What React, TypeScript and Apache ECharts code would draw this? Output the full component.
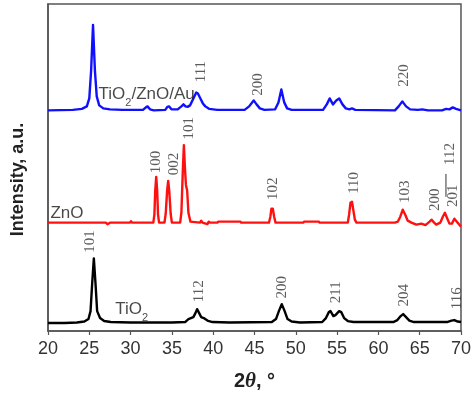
import React, { useEffect, useRef } from "react";
import * as echarts from "echarts";

// 2θ (deg) vs intensity (a.u., above each pattern's own baseline)
const tio2Pattern: number[][] = [
  [20, 0], [22, 0], [23.5, 0.5], [24.4, 1.5], [24.9, 4], [25.15, 12], [25.35, 40], [25.55, 65], [25.75, 40], [25.95, 12],
  [26.3, 5], [26.8, 2], [27.6, 1], [30, 0.5], [35, 0.5], [36.6, 1], [37.0, 4], [37.3, 5], [37.6, 6], [37.85, 10],
  [38.05, 14], [38.3, 10], [38.55, 6], [38.85, 5], [39.3, 2.5], [39.9, 1], [42, 0.5], [47.1, 1], [47.6, 4], [47.95, 12],
  [48.3, 19], [48.65, 12], [49.0, 4], [49.5, 1.5], [50.5, 0.5], [53.2, 1], [53.65, 5], [54.0, 11], [54.2, 12], [54.55, 7],
  [54.8, 8], [55.25, 12], [55.5, 11], [55.85, 5], [56.3, 2], [57, 1], [61.8, 1], [62.3, 3], [62.7, 7], [63.0, 9],
  [63.35, 6], [63.75, 2.5], [64.3, 1], [68.3, 1], [68.85, 2.5], [69.2, 3], [69.6, 1.5], [70, 1],
];

const znoPattern: number[][] = [
  [20, 0], [27.0, 0], [27.2, -1.5], [27.5, 0], [29.9, 0], [30.05, 1.5], [30.2, 0], [32.75, 0], [32.88, 8], [32.98, 32],
  [33.1, 46], [33.22, 32], [33.32, 8], [33.45, 0], [34.1, 0], [34.25, 9], [34.42, 32], [34.55, 42], [34.68, 32], [34.85, 9],
  [35.0, 0], [36.0, 0], [36.15, 10], [36.32, 52], [36.45, 78], [36.58, 55], [36.7, 38], [36.85, 32], [37.0, 10], [37.25, 1],
  [38.4, 0], [38.55, 2], [38.7, 0], [39.3, -1.5], [39.45, 1], [39.6, 0], [40.5, 0], [40.6, 1], [43.3, 1], [43.4, 0],
  [46.75, 0], [46.92, 6], [47.05, 14], [47.22, 14], [47.38, 6], [47.55, 0], [50.9, 0], [51, 1], [52.8, 1], [52.9, 0],
  [56.3, 0], [56.45, 8], [56.62, 20], [56.8, 21], [56.98, 12], [57.15, 3], [57.35, 0], [62.0, 0], [62.35, 1], [62.65, 6],
  [62.95, 13], [63.25, 8], [63.55, 2], [64.0, 0], [64.6, -2], [65.2, -1], [65.7, -2.5], [66.2, 1], [66.45, 3], [66.75, 0],
  [67.0, -2], [67.5, 0], [67.8, 6], [68.05, 10], [68.35, 4], [68.6, -1], [68.9, -1], [69.2, 4], [69.5, 1], [69.8, -2],
  [70, -4],
];

const compositePattern: number[][] = [
  [20, 0], [23, 0.5], [24.1, 1.5], [24.7, 4], [25.0, 12], [25.22, 40], [25.45, 86], [25.68, 40], [25.9, 14], [26.2, 5],
  [26.7, 2], [27.5, 1], [29, 0.5], [31.5, 0.5], [31.85, 3], [32.05, 4], [32.35, 1], [32.8, 0], [34.2, 0.5], [34.45, 3.5],
  [34.65, 4], [34.95, 1], [35.7, 1], [36.15, 4], [36.4, 6], [36.65, 4], [36.9, 3.5], [37.2, 5], [37.6, 12], [37.95, 18],
  [38.15, 17], [38.45, 12], [38.75, 7], [39.05, 4], [39.5, 1.5], [40.5, 0.5], [43.8, 0.5], [44.35, 4], [44.9, 10], [45.25, 6],
  [45.65, 2], [46.2, 0.5], [47.5, 1], [47.9, 8], [48.25, 21], [48.6, 8], [48.95, 2], [49.5, 0.5], [53.3, 0.5], [53.75, 6],
  [54.1, 12], [54.5, 6], [54.9, 10], [55.25, 12], [55.65, 6], [56.05, 2], [56.5, 1], [56.8, 2], [57.2, 0.5], [62.0, 0],
  [62.45, 4], [62.9, 9], [63.35, 4], [63.85, 1], [64.8, 0.5], [65.3, 1], [66, 0], [67.7, 0], [68.2, 1.5], [68.6, 1],
  [69.0, 3], [69.4, 1.5], [70, 0],
];

// vertical offsets of the stacked patterns
const tio2Offset = 8;
const znoOffset = 109;
const compositeOffset = 222;

// Miller-index annotations
const compositeHklText = ["111", "200", "220"];
const compositeHklX = [38.4, 45.3, 62.95];
const compositeHklY = [261, 248, 257];

const znoHklText = ["100", "002", "101", "102", "110", "103", "200", "112", "201"];
const znoHklX = [33.0, 35.1, 36.9, 47.08, 56.94, 63.05, 66.68, 68.57, 68.93];
const znoHklY = [170, 168, 204, 143, 149, 140, 132, 178, 136];

const tio2HklText = ["101", "112", "200", "211", "204", "116"];
const tio2HklX = [25.0, 38.1, 48.15, 54.8, 62.95, 69.4];
const tio2HklY = [90, 40, 44, 39, 36, 33];

// bar between 112 and 201
const barX = [68.18, 68.18];
const barY = [158, 135];

// sample names
const sampleText = ["{a|TiO}{s|2}{a|/ZnO/Au}", "{a|ZnO}", "{a|TiO}{s|2}"];
const sampleX = [26.06, 20.24, 28.08];
const sampleY = [230, 118, 14];

const xTicks = { min: 20, max: 70, interval: 5 };

const SANS = "'Liberation Sans', Arial, sans-serif";
const SERIF = "'Liberation Serif', 'Times New Roman', serif";

function hklSeries(texts: string[], xs: number[], ys: number[]) {
  return {
    type: "scatter",
    silent: true,
    symbolSize: 1,
    itemStyle: { color: "transparent" },
    data: texts.map((t, i) => ({ name: t, value: [xs[i], ys[i]] })),
    label: {
      show: true,
      formatter: "{b}",
      position: "inside",
      rotate: 90,
      fontFamily: SERIF,
      fontSize: 15,
      color: "#333",
    },
    z: 5,
  };
}

function patternSeries(pattern: number[][], offset: number, color: string) {
  return {
    type: "line",
    silent: true,
    symbol: "none",
    smooth: false,
    data: pattern.map(([x, y]) => [x, y + offset]),
    lineStyle: { color, width: 2.4, join: "round" },
    z: 3,
  };
}

export default function App() {
  const ref = useRef<HTMLDivElement>(null);
  useEffect(() => {
    if (!ref.current) return;
    const chart = echarts.init(ref.current, null, { renderer: "svg" });
    chart.setOption({
      animation: false,
      textStyle: { fontFamily: SANS },
      grid: {
        left: 42,
        right: 11,
        top: 4,
        bottom: 62,
        show: true,
        borderColor: "#555",
        borderWidth: 1.5,
        backgroundColor: "transparent",
      },
      xAxis: {
        type: "value",
        min: xTicks.min,
        max: xTicks.max,
        interval: xTicks.interval,
        axisLine: { show: true, lineStyle: { color: "#555", width: 1.5 } },
        axisTick: { show: true, inside: false, length: 4, lineStyle: { color: "#555", width: 1.2 } },
        axisLabel: { fontSize: 18, color: "#333", margin: 8, fontFamily: SANS },
        splitLine: { show: false },
        name: "{n|2}{t|θ}{n|, °}",
        nameLocation: "middle",
        nameGap: 38,
        nameTextStyle: {
          rich: {
            n: { fontSize: 20, fontWeight: "bold", fontFamily: SANS, color: "#222" },
            t: { fontSize: 21, fontWeight: "bold", fontStyle: "italic", fontFamily: SERIF, color: "#222" },
          },
        },
      },
      yAxis: {
        type: "value",
        min: 0,
        max: 329,
        axisLine: { show: true, lineStyle: { color: "#555", width: 1.5 } },
        axisTick: { show: false },
        axisLabel: { show: false },
        splitLine: { show: false },
        name: "Intensity, a.u.",
        nameLocation: "middle",
        nameGap: 22,
        nameTextStyle: { fontSize: 18, fontWeight: "bold", color: "#222", fontFamily: SANS, padding: [0, 24, 0, 0] },
      },
      series: [
        patternSeries(tio2Pattern, tio2Offset, "#000000"),
        patternSeries(znoPattern, znoOffset, "#ff1010"),
        patternSeries(compositePattern, compositeOffset, "#1010ff"),
        hklSeries(compositeHklText, compositeHklX, compositeHklY),
        hklSeries(znoHklText, znoHklX, znoHklY),
        hklSeries(tio2HklText, tio2HklX, tio2HklY),
        {
          type: "line",
          silent: true,
          symbol: "none",
          data: barX.map((x, i) => [x, barY[i]]),
          lineStyle: { color: "#333", width: 1 },
        },
        {
          type: "scatter",
          silent: true,
          symbolSize: 1,
          itemStyle: { color: "transparent" },
          data: sampleText.map((t, i) => ({ name: t, value: [sampleX[i], sampleY[i]] })),
          label: {
            show: true,
            formatter: "{b}",
            position: "right",
            distance: 0,
            rich: {
              a: { fontSize: 17, lineHeight: 20, verticalAlign: "top", fontFamily: SANS, color: "#1a1a1a" },
              s: { fontSize: 11, lineHeight: 34, fontFamily: SANS, color: "#1a1a1a" },
            },
          },
          z: 6,
        },
      ],
    });
    return () => chart.dispose();
  }, []);
  return <div ref={ref} style={{ position: "fixed", left: 0, top: 0, width: 474, height: 395 }} />;
}
